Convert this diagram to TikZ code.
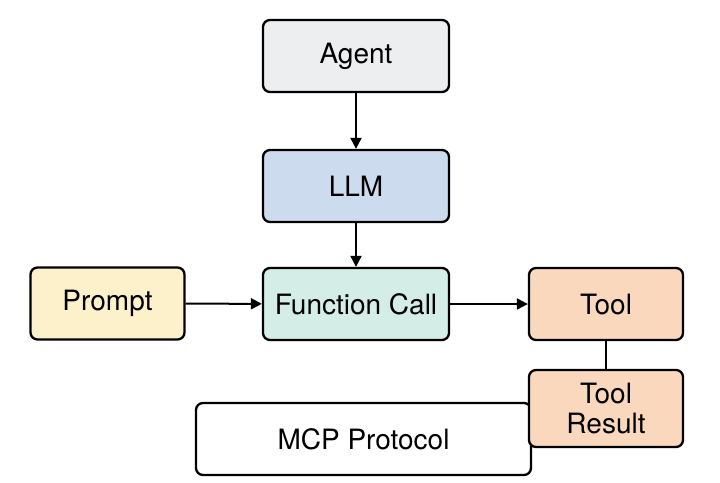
\documentclass[tikz,border=0pt]{standalone}
\usepackage{fontspec}
\setmainfont{TeX Gyre Heros}
\usetikzlibrary{arrows.meta}

\definecolor{agentgray}{HTML}{EDEEF0}
\definecolor{llmblue}{HTML}{CDDBEF}
\definecolor{callgreen}{HTML}{D4EDE7}
\definecolor{promptyellow}{HTML}{FCF1CB}
\definecolor{toolorange}{HTML}{FAD8BD}

\begin{document}
\begin{tikzpicture}[x=1pt, y=-1pt,
    every node/.style={draw=black, line width=2.3pt, rounded corners=7pt, align=center, inner sep=0pt,
        font=\fontsize{28}{30}\selectfont},
    box/.style={minimum width=186pt, minimum height=72pt},
    side/.style={minimum width=154pt, minimum height=72pt},
    flow/.style={draw=black, line width=2pt, -{Triangle[length=11pt, width=11pt]}},
    link/.style={draw=black, line width=2pt}]
			\useasboundingbox (0,0) rectangle (720,482);

			\node[box, fill=agentgray] (agent) at (356,56){Agent};
			\node[box, fill=llmblue] (llm) at (356,186){LLM};
			\node[box, fill=callgreen] (call) at (356,304){Function Call};
			\node[side, fill=promptyellow] (prompt) at (107.5,303.5){Prompt};
			\node[side, fill=toolorange] (tool) at (606,304){Tool};
			\node[minimum width=335pt, minimum height=72pt, fill=white] (mcp) at (363.5,439){MCP Protocol};
			\node[side, minimum height=77pt, fill=toolorange] (result) at (606,408.5){Tool\\Result};

			\path (agent) edge[flow] (llm);
			\path (llm) edge[flow] (call);
			\path (prompt) edge[flow] (call);
			\path (call) edge[flow] (tool);
			\path (tool) edge[link] (result);
			\end{tikzpicture}
\end{document}
